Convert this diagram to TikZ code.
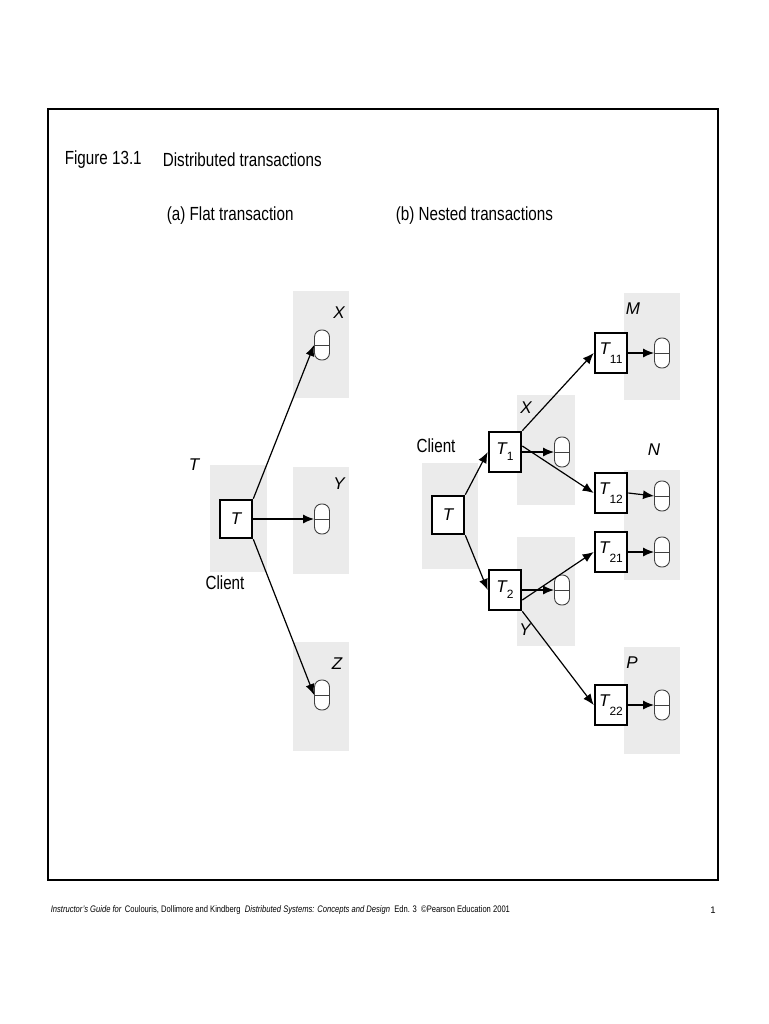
\documentclass[tikz,border=0pt]{standalone}
\usepackage{fontspec}
\setmainfont{Liberation Sans}
\usetikzlibrary{arrows.meta}
\begin{document}
\begin{tikzpicture}[x=1pt,y=-1pt,
 grey/.style={fill=black!8,draw=none},
 tbox/.style={draw,line width=2.6pt,fill=white,minimum width=32pt,minimum height=40pt,inner sep=0pt,font=\itshape\fontsize{17}{17}\selectfont},
 srv/.style={draw=black!75,line width=0.9pt,fill=white,rounded corners=7pt,minimum width=15pt,minimum height=30pt,inner sep=0pt,
   path picture={\draw[black!75,line width=0.9pt] (path picture bounding box.west) -- (path picture bounding box.east);}},
 lab/.style={font=\itshape\fontsize{17}{17}\selectfont},
 arr/.style={-{Latex[length=11pt,width=9pt]},line width=1.2pt},
 ttl/.style={font=\fontsize{19}{19}\selectfont,anchor=west,xscale=0.8}]
\useasboundingbox (0,0) rectangle (768,1024);
\draw[line width=1.5pt] (48,109) rectangle (718,880);
\node[ttl] (f) at (62,160) {Figure 13.1};
\node[ttl] (ft) at (160,160) {Distributed transactions};
\node[ttl] (a) at (164,216) {(a) Flat transaction};
\node[ttl] (b) at (393,216) {(b) Nested transactions};
% flat
\fill[grey] (210,465) rectangle (267,572);
\fill[grey] (293,291) rectangle (349,398);
\fill[grey] (293,467) rectangle (349,574);
\fill[grey] (293,642) rectangle (349,751);
\node[tbox,minimum height=38pt] (T) at (236,519) {T};
\node[lab] (Tl) at (194,465) {T};
\node[ttl,anchor=center] (cl) at (225,583) {Client};
\node[srv] (sX) at (322,345) {};
\node[srv] (sY) at (322,519) {};
\node[srv] (sZ) at (322,695) {};
\node[lab] (lX) at (339,313) {X};
\node[lab] (lY) at (339,484) {Y};
\node[lab] (lZ) at (337,664) {Z};
\draw[arr] (T.north east) -- (sX.west);
\draw[arr] (T.east) -- (sY.west);
\draw[arr] (T.south east) -- (sZ.west);
% nested
\fill[grey] (422,463) rectangle (478,569);
\fill[grey] (517,395) rectangle (575,505);
\fill[grey] (517,537) rectangle (575,646);
\fill[grey] (624,293) rectangle (680,400);
\fill[grey] (624,470) rectangle (680,580);
\fill[grey] (624,647) rectangle (680,754);
\node[tbox,minimum height=38pt] (N) at (448,515) {T};
\node[ttl,anchor=center] (ncl) at (436,446) {Client};
\node[tbox] (T1) at (505,452) {T\raisebox{-6pt}{\fontsize{12}{12}\selectfont\upshape 1}};
\node[tbox] (T2) at (505,590) {T\raisebox{-6pt}{\fontsize{12}{12}\selectfont\upshape 2}};
\node[tbox] (T11) at (611,353) {T\raisebox{-9pt}{\fontsize{12}{12}\selectfont\upshape 11}};
\node[tbox] (T12) at (611,493) {T\raisebox{-9pt}{\fontsize{12}{12}\selectfont\upshape 12}};
\node[tbox] (T21) at (611,552) {T\raisebox{-9pt}{\fontsize{12}{12}\selectfont\upshape 21}};
\node[tbox] (T22) at (611,705) {T\raisebox{-9pt}{\fontsize{12}{12}\selectfont\upshape 22}};
\node[srv] (s1) at (562,452) {};
\node[srv] (s2) at (562,590) {};
\node[srv] (s11) at (662,353) {};
\node[srv] (s12) at (662,496) {};
\node[srv] (s21) at (662,552) {};
\node[srv] (s22) at (662,705) {};
\node[lab] (lnX) at (526,408) {X};
\node[lab] (lnY) at (525,630) {Y};
\node[lab] (lM) at (633,309) {M};
\node[lab] (lN) at (654,450) {N};
\node[lab] (lP) at (632,663) {P};
\draw[arr] (N.north east) -- (T1.west);
\draw[arr] (N.south east) -- (T2.west);
\draw[arr] (T1.east) -- (s1.west);
\draw[arr] (T2.east) -- (s2.west);
\draw[arr] (T1.north east) -- (T11.west);
\draw[arr] ([yshift=6pt]T1.east) -- (T12.west);
\draw[arr] ([yshift=-10pt]T2.east) -- (T21.west);
\draw[arr] (T2.south east) -- (T22.west);
\draw[arr] (T11.east) -- (s11.west);
\draw[arr] (T12.east) -- (s12.west);
\draw[arr] (T21.east) -- (s21.west);
\draw[arr] (T22.east) -- (s22.west);
% footer
\node[anchor=west,font=\itshape\fontsize{9.5}{9.5}\selectfont,xscale=0.8] (ft1) at (48,910) {Instructor's Guide for\, \upshape Coulouris, Dollimore and Kindberg\ \ \itshape Distributed Systems: Concepts and Design\ \ \upshape Edn. 3\ \ \textcopyright Pearson Education 2001};
\node[font=\fontsize{9.5}{9.5}\selectfont] (pg) at (713,910) {1};
\end{tikzpicture}
\end{document}
